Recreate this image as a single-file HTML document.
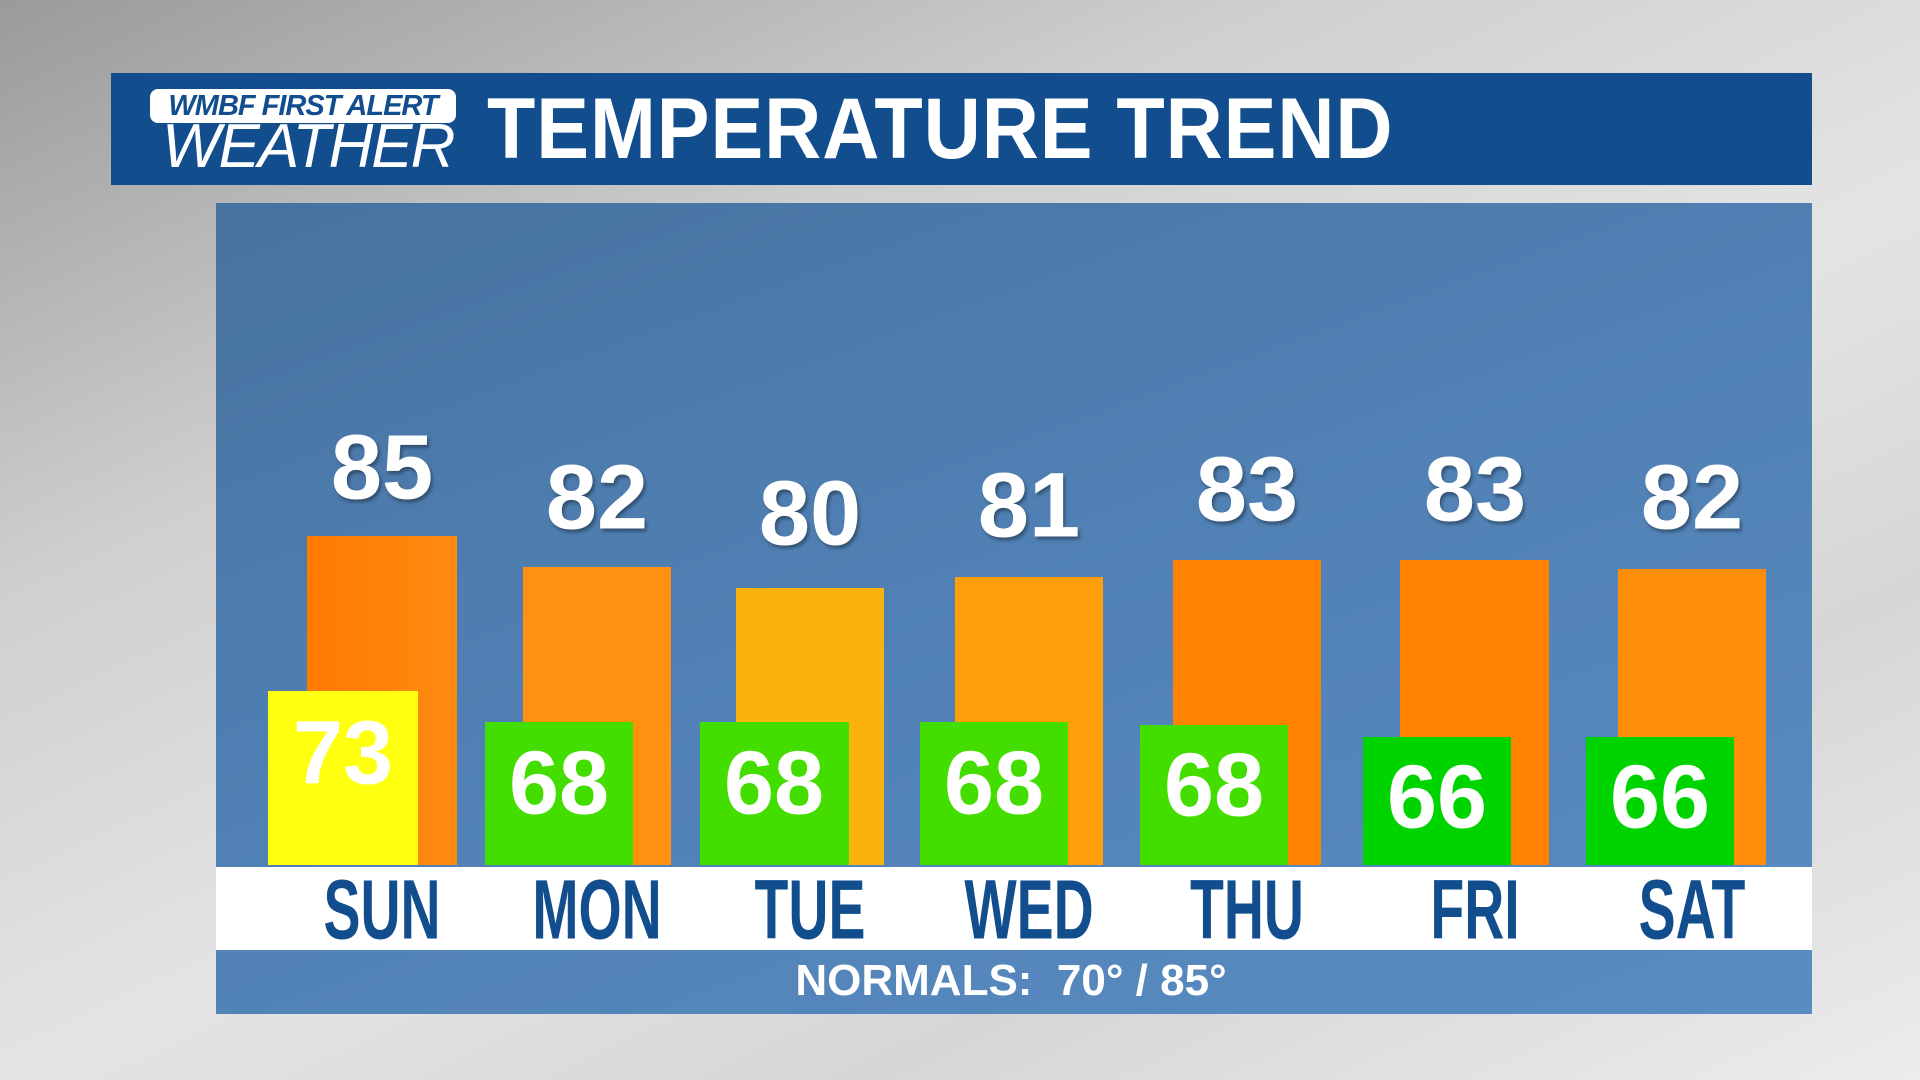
<!DOCTYPE html>
<html><head><style>
*{margin:0;padding:0;box-sizing:border-box}
body{width:1920px;height:1080px;overflow:hidden;position:relative;font-family:"Liberation Sans",sans-serif;
background:linear-gradient(155deg,#9a9a9a 0%,#cfcfcf 30%,#e4e4e4 55%,#d6d6d6 75%,#ececec 100%)}
.abs{position:absolute}
#hdr{left:111px;top:73px;width:1701px;height:112px;background:#124d8d}
#panel{left:216px;top:203px;width:1596px;height:811px;background:linear-gradient(160deg,#46729f 0%,#4f7fb2 40%,#5a8cc2 100%)}
#strip{left:216px;top:867px;width:1596px;height:83px;background:#fff}
.bar{position:absolute;bottom:215px}
.t{position:absolute;color:#fff;font-weight:bold;text-align:center;transform:translate(-50%,-50%);white-space:nowrap}
.hi{font-size:92px;text-shadow:2px 3px 3px rgba(0,0,0,.35)}
.lo{font-size:90px}
.day{position:absolute;color:#124d8d;font-weight:bold;font-size:84px;transform:translate(-50%,-50%) scaleX(.66);top:910px}
</style></head><body>
<div class="abs" id="hdr"></div>
<div class="abs" style="left:150px;top:89px;width:306px;height:34px;background:#fff;border-radius:8px"></div>
<div class="abs" style="left:150px;top:89px;width:306px;height:34px;line-height:34px;text-align:center;color:#124d8d;font-weight:bold;font-style:italic;font-size:29px;letter-spacing:-1px">WMBF FIRST ALERT</div>
<div class="abs" style="left:162px;top:116px;color:#fff;font-style:italic;font-size:62px;line-height:62px;letter-spacing:-2px">WEATHER</div>
<div class="abs" style="left:487px;top:84px;color:#fff;font-weight:bold;font-size:86px;line-height:90px;letter-spacing:1px;transform-origin:left;transform:scaleX(.92)">TEMPERATURE TREND</div>
<div class="abs" id="panel"></div>
<div class="bar" style="left:307px;width:150px;top:536px;height:329px;background:linear-gradient(90deg,#ff7a00,#ff8a10)"></div>
<div class="bar" style="left:523px;width:148px;top:567px;height:298px;background:#ff9010"></div>
<div class="bar" style="left:736px;width:148px;top:588px;height:277px;background:#fab20c"></div>
<div class="bar" style="left:955px;width:148px;top:577px;height:288px;background:#ffa00a"></div>
<div class="bar" style="left:1173px;width:148px;top:560px;height:305px;background:#ff8200"></div>
<div class="bar" style="left:1400px;width:149px;top:560px;height:305px;background:#ff8200"></div>
<div class="bar" style="left:1618px;width:148px;top:569px;height:296px;background:#ff8c0a"></div>
<div class="bar" style="left:268px;width:150px;top:691px;height:174px;background:#ffff10"></div>
<div class="bar" style="left:485px;width:148px;top:722px;height:143px;background:#44dd00"></div>
<div class="bar" style="left:700px;width:149px;top:722px;height:143px;background:#44dd00"></div>
<div class="bar" style="left:920px;width:148px;top:722px;height:143px;background:#44dd00"></div>
<div class="bar" style="left:1140px;width:148px;top:725px;height:140px;background:#44dd00"></div>
<div class="bar" style="left:1363px;width:148px;top:737px;height:128px;background:#00d400"></div>
<div class="bar" style="left:1586px;width:148px;top:737px;height:128px;background:#00d400"></div>
<div class="t hi" style="left:382px;top:468px">85</div>
<div class="t hi" style="left:597px;top:498px">82</div>
<div class="t hi" style="left:810px;top:514px">80</div>
<div class="t hi" style="left:1029px;top:506px">81</div>
<div class="t hi" style="left:1247px;top:490px">83</div>
<div class="t hi" style="left:1475px;top:490px">83</div>
<div class="t hi" style="left:1692px;top:498px">82</div>
<div class="t lo" style="left:343px;top:754px">73</div>
<div class="t lo" style="left:559px;top:784px">68</div>
<div class="t lo" style="left:774px;top:784px">68</div>
<div class="t lo" style="left:994px;top:784px">68</div>
<div class="t lo" style="left:1214px;top:786px">68</div>
<div class="t lo" style="left:1437px;top:798px">66</div>
<div class="t lo" style="left:1660px;top:798px">66</div>
<div class="abs" id="strip"></div>
<div class="day" style="left:382px">SUN</div>
<div class="day" style="left:597px">MON</div>
<div class="day" style="left:810px">TUE</div>
<div class="day" style="left:1029px">WED</div>
<div class="day" style="left:1247px">THU</div>
<div class="day" style="left:1475px">FRI</div>
<div class="day" style="left:1692px">SAT</div>
<div class="t" style="left:1011px;top:981px;font-size:44px">NORMALS:&nbsp; 70° / 85°</div>
</body></html>
